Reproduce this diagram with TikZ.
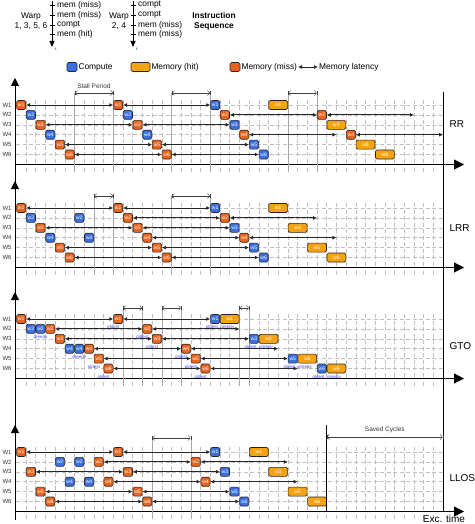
\documentclass[tikz,border=0pt]{standalone}
\usepackage{fontspec}
\setmainfont{Liberation Sans}
\usetikzlibrary{arrows.meta}

\definecolor{cpublue}{HTML}{3A6FE0}
\definecolor{hitorange}{HTML}{F6A312}
\definecolor{missorange}{HTML}{E8641C}
\definecolor{tagblue}{HTML}{4646EE}

\newcommand{\slotw}{9.7}
\newcommand{\slotx}{16.3}
\newcommand{\rowh}{9.9}
\newcommand{\txtsize}[1]{\fontsize{#1}{#1}\selectfont}

\begin{document}
\begin{tikzpicture}[
  x=1pt, y=-1pt,
  wbox/.style={draw=black!85, line width=0.6pt, rounded corners=1.5pt, inner sep=0pt,
               minimum height=9pt, text=white, font=\txtsize{5}},
  cbox/.style={wbox, fill=cpublue, minimum width=9.2pt},
  mbox/.style={wbox, fill=missorange, minimum width=9.2pt},
  hbox/.style={wbox, fill=hitorange, minimum width=18.9pt, xshift=4.85pt},
  lat/.style={{Latex[length=4pt,width=4pt]}-{Latex[length=4pt,width=4pt]},
              line width=0.9pt, draw=black!85},
  stall/.style={|<->|, line width=0.4pt, draw=black!75},
  bound/.style={draw=gray!70, line width=0.4pt},
  lattice/.style={draw=gray!50, line width=0.45pt, dash pattern=on 4pt off 2.5pt},
  timeaxis/.style={line width=1pt, -{Triangle[length=10pt,width=10pt]}},
  seqaxis/.style={line width=0.8pt, -{Triangle[length=6pt,width=5pt]}},
  pick/.style={text=tagblue, font=\txtsize{4.5}, inner sep=0.4pt, anchor=north, yshift=-1pt},
  lbl/.style={font=\txtsize{8.4}, inner sep=1pt},
]
\useasboundingbox (0,0) rectangle (474,524);

% instruction sequences
\draw[seqaxis] (52,1) -- (52,47);
\draw[seqaxis] (133,1) -- (133,47);
\foreach \ty in {5,15,25,34} {
  \draw[line width=0.5pt] (49.5,\ty) -- (54.5,\ty);
  \draw[line width=0.5pt] (130.5,\ty) -- (135.5,\ty);
}
\node[lbl, align=center, font=\fontsize{8.4}{10}\selectfont] (warp-a) at (31,21) {Warp\\1, 3, 5, 6};
\node[lbl, anchor=west] (seq-a1) at (56,5) {mem (miss)};
\node[lbl, anchor=west] (seq-a2) at (56,15) {mem (miss)};
\node[lbl, anchor=west] (seq-a3) at (56,25) {compt};
\node[lbl, anchor=west] (seq-a4) at (56,34) {mem (hit)};
\node[font=\txtsize{4}] (t-a) at (56,49) {t};
\node[lbl, align=center, font=\fontsize{8.4}{10}\selectfont] (warp-b) at (119,21) {Warp\\2, 4};
\node[lbl, anchor=west] (seq-b1) at (137,5) {compt};
\node[lbl, anchor=west] (seq-b2) at (137,15) {compt};
\node[lbl, anchor=west] (seq-b3) at (137,25) {mem (miss)};
\node[lbl, anchor=west] (seq-b4) at (137,34) {mem (miss)};
\node[font=\txtsize{4}] (t-b) at (137,49) {t};
\node[lbl, align=center, font=\fontsize{8.4}{10.5}\selectfont\bfseries] (seq-title) at (214,21.5) {Instruction\\Sequence};

% legend
\node[wbox, fill=cpublue, minimum width=10pt, minimum height=9pt] (key-cpu) at (72,67) {};
\node[lbl, anchor=west] (key-cpu-t) at (key-cpu.east) {Compute};
\node[wbox, fill=hitorange, minimum width=19pt, minimum height=9pt] (key-hit) at (140.5,67) {};
\node[lbl, anchor=west] (key-hit-t) at (key-hit.east) {Memory (hit)};
\node[wbox, fill=missorange, minimum width=10pt, minimum height=9pt] (key-miss) at (235,67) {};
\node[lbl, anchor=west] (key-miss-t) at (key-miss.east) {Memory (miss)};
\coordinate (key-l1) at (298,67);
\coordinate (key-l2) at (318,67);
\draw[lat] (key-l1) -- (key-l2);
\node[lbl, anchor=west] (key-lat) at (key-l2) {Memory latency};

% panel frames
\foreach \y/\yend/\lab/\ly in {105/183/RR/124, 208/294/LRR/228, 319/427/GTO/346, 452/520/LLOS/478} {
  \foreach \kk in {1,...,43} {
    \draw[lattice] ({\slotx+\slotw*\kk},{\y-5}) -- ({\slotx+\slotw*\kk},{\y+59.5});
    \draw[draw=gray!50, line width=0.45pt] ({\slotx+\slotw*\kk},{\y+62.5}) -- ({\slotx+\slotw*\kk},{\y+66.5});
  }
  \foreach \row in {1,...,6} {
    \draw[lattice] (16,{\y+\rowh*(\row-1)}) -- (443,{\y+\rowh*(\row-1)});
    \node[font=\txtsize{6}, text=black!80] at (7,{\y+\rowh*(\row-1)}) {W\row};
  }
  \draw[timeaxis] (15,{\y+59.5}) -- (464,{\y+59.5});
  \draw[line width=1pt, -{Triangle[length=8pt,width=8pt]}] (15,\yend) -- (15,{\y-27});
  \node[anchor=west, font=\txtsize{10}] at (446,\ly) {\lab};
}
\draw[line width=0.8pt] (443,92) -- (443,512);

% stall periods
\foreach \y/\sta/\stb/\ax in {93/6/10/164.5, 93/16/20/164.5, 93/28/31/164.5,
    196/8/10/267.5, 196/16/20/267.5,
    308/11/13/378.5, 308/15/17/378.5, 308/23/24/378.5,
    438/14/18/511.5} {
  \draw[bound] ({\slotx+\slotw*\sta},\y) -- ({\slotx+\slotw*\sta},{\ax+7});
  \draw[bound] ({\slotx+\slotw*\stb},\y) -- ({\slotx+\slotw*\stb},{\ax+7});
  \draw[stall] ({\slotx+\slotw*\sta},\y) -- ({\slotx+\slotw*\stb},\y);
}
\node[font=\txtsize{6.5}, text=black!80] (stall-t) at ({\slotx+\slotw*8},86) {Stall Period};

% RR
\foreach \w/\kk/\kind in {1/0/mbox, 2/1/cbox, 3/2/mbox, 4/3/cbox, 5/4/mbox, 6/5/mbox,
    1/10/mbox, 2/11/cbox, 3/12/mbox, 4/13/cbox, 5/14/mbox, 6/15/mbox,
    1/20/cbox, 2/21/mbox, 3/22/cbox, 4/23/mbox, 5/24/cbox, 6/25/cbox,
    1/26/hbox, 2/31/mbox, 3/32/hbox, 4/34/mbox, 5/35/hbox, 6/37/hbox}
  \node[\kind] (rr-\w-\kk) at ({\slotx+\slotw*\kk+4.85},{105+\rowh*(\w-1)}) {w\w};
\foreach \w/\kk in {4/33, 2/41, 4/44}
  \coordinate (rr-\w-\kk) at ({\slotx+\slotw*\kk},{105+\rowh*(\w-1)});
\foreach \w/\ka/\kb in {1/0/10, 3/2/12, 5/4/14, 6/5/15, 1/10/20, 3/12/22, 5/14/24, 6/15/25,
    2/21/31, 4/23/33, 2/31/41, 4/34/44}
  \draw[lat] (rr-\w-\ka.east) -- (rr-\w-\kb);

% LRR
\foreach \w/\kk/\kind in {1/0/mbox, 2/1/cbox, 3/2/mbox, 4/3/cbox, 5/4/mbox, 6/5/mbox, 2/6/cbox, 4/7/cbox,
    1/10/mbox, 2/11/mbox, 3/12/mbox, 4/13/mbox, 5/14/mbox, 6/15/mbox,
    1/20/cbox, 2/21/mbox, 3/22/cbox, 4/23/mbox, 5/24/cbox, 6/25/cbox,
    1/26/hbox, 3/28/hbox, 5/30/hbox, 6/32/hbox}
  \node[\kind] (lrr-\w-\kk) at ({\slotx+\slotw*\kk+4.85},{208+\rowh*(\w-1)}) {w\w};
\foreach \w/\kk in {2/31, 4/33}
  \coordinate (lrr-\w-\kk) at ({\slotx+\slotw*\kk},{208+\rowh*(\w-1)});
\foreach \w/\ka/\kb in {1/0/10, 3/2/12, 5/4/14, 6/5/15, 1/10/20, 2/11/21, 3/12/22, 4/13/23,
    5/14/24, 6/15/25, 2/21/31, 4/23/33}
  \draw[lat] (lrr-\w-\ka.east) -- (lrr-\w-\kb);

% GTO
\foreach \w/\kk/\kind in {1/0/mbox, 2/1/cbox, 2/2/cbox, 2/3/mbox, 3/4/mbox, 4/5/cbox, 4/6/cbox, 4/7/mbox,
    5/8/mbox, 6/9/mbox,
    1/10/mbox, 2/13/mbox, 3/14/mbox, 4/17/mbox, 5/18/mbox, 6/19/mbox,
    1/20/cbox, 1/21/hbox, 3/24/cbox, 3/25/hbox, 5/28/cbox, 5/29/hbox, 6/31/cbox, 6/32/hbox}
  \node[\kind] (gto-\w-\kk) at ({\slotx+\slotw*\kk+4.85},{319+\rowh*(\w-1)}) {w\w};
\foreach \w/\kk in {2/23, 4/27, 6/29}
  \coordinate (gto-\w-\kk) at ({\slotx+\slotw*\kk},{319+\rowh*(\w-1)});
\foreach \w/\ka/\kb in {1/0/10, 2/3/13, 3/4/14, 4/7/17, 5/8/18, 6/9/19, 1/10/20, 2/13/23,
    3/14/24, 4/17/27, 5/18/28, 6/19/29}
  \draw[lat] (gto-\w-\ka.east) -- (gto-\w-\kb);
\node[pick] at (gto-2-2.south) {greedy};
\node[pick] at (gto-4-6.south) {greedy};
\foreach \n in {5-8, 6-9, 1-10, 2-13, 3-14, 4-17, 5-18, 6-19}
  \node[pick] at (gto-\n.south west) {oldest};
\foreach \n in {1-20, 3-24, 5-28, 6-31}
  \node[pick] at (gto-\n.south east) {oldest, greedy};

% LLOS
\foreach \w/\kk/\kind in {1/0/mbox, 3/1/mbox, 5/2/mbox, 6/3/mbox, 2/4/cbox, 4/5/cbox, 2/6/cbox, 4/7/cbox,
    2/8/mbox, 4/9/mbox,
    1/10/mbox, 3/11/mbox, 5/12/mbox, 6/13/mbox, 2/18/mbox, 4/19/mbox,
    1/20/cbox, 3/21/cbox, 5/22/cbox, 6/23/cbox, 1/24/hbox, 3/26/hbox, 5/28/hbox, 6/30/hbox}
  \node[\kind] (llos-\w-\kk) at ({\slotx+\slotw*\kk+4.85},{452+\rowh*(\w-1)}) {w\w};
\foreach \w/\kk in {2/28, 4/29}
  \coordinate (llos-\w-\kk) at ({\slotx+\slotw*\kk},{452+\rowh*(\w-1)});
\foreach \w/\ka/\kb in {1/0/10, 3/1/11, 5/2/12, 6/3/13, 2/8/18, 4/9/19, 1/10/20, 3/11/21,
    5/12/22, 6/13/23, 2/18/28, 4/19/29}
  \draw[lat] (llos-\w-\ka.east) -- (llos-\w-\kb);

% saved cycles
\draw[line width=0.8pt] ({\slotx+\slotw*32},425) -- ({\slotx+\slotw*32},511.5);
\draw[stall] ({\slotx+\slotw*32},437) -- (443,437)
  node[midway, above=0.5pt, font=\txtsize{6.5}, text=black!80] (saved-t) {Saved Cycles};
\node[font=\txtsize{10}] (time-t) at (444,519) {Exc. time};

\end{tikzpicture}
\end{document}
